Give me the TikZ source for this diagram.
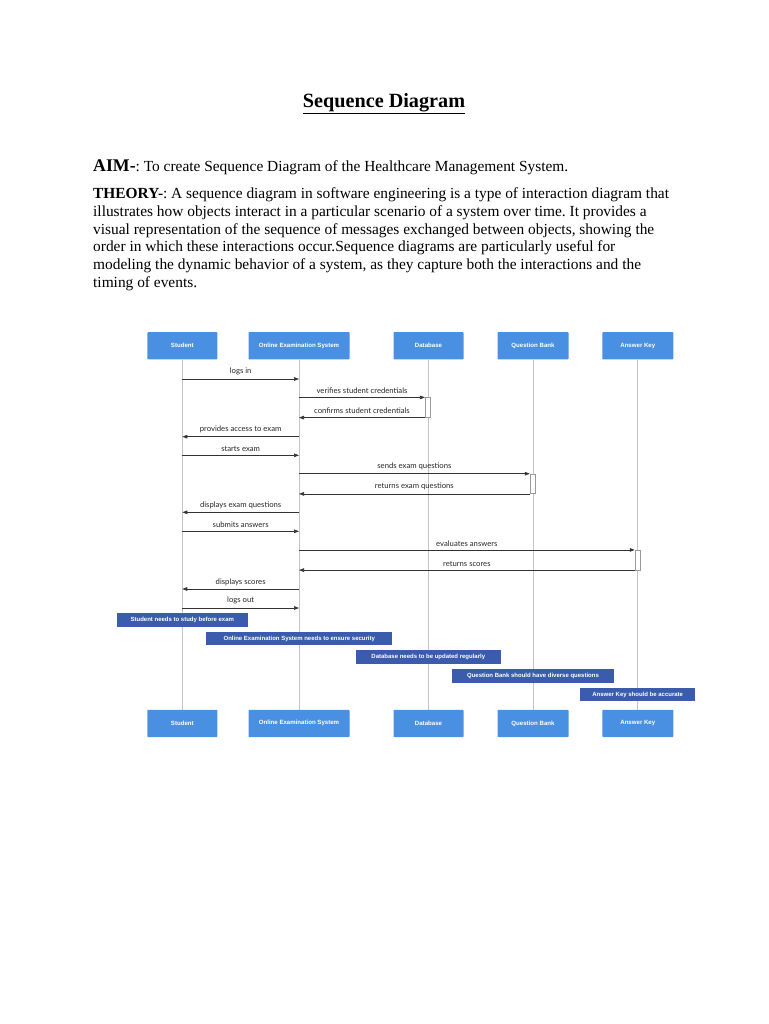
\documentclass[tikz,border=0pt]{standalone}
\usepackage{fontspec}
\setmainfont{Liberation Serif}
\newfontfamily\lblfont{Lato}
\newfontfamily\boxfont{Liberation Sans}
\usetikzlibrary{arrows.meta}
\definecolor{hdrblue}{HTML}{4A90E2}
\definecolor{noteblue}{HTML}{3B5CAD}
\definecolor{lifegrey}{HTML}{C4C4C4}
\definecolor{msgline}{HTML}{333333}
\definecolor{bargrey}{HTML}{9A9A9A}
\frenchspacing
\begin{document}
\begin{tikzpicture}[x=1pt,y=-1pt,
  actor/.style={fill=hdrblue, draw=none, minimum height=27.3pt, inner sep=0pt,
    font=\boxfont\bfseries\fontsize{6.1}{7}\selectfont, text=white, rounded corners=0.8pt},
  note/.style={fill=noteblue, draw=none, minimum height=13.7pt, inner sep=0pt,
    font=\boxfont\bfseries\fontsize{6}{7}\selectfont, text=white},
  lifeline/.style={draw=lifegrey, line width=0.8pt},
  actbar/.style={draw=bargrey, fill=white, line width=0.6pt, minimum width=5.5pt, minimum height=19.6pt, inner sep=0pt},
  msg/.style={draw=msgline, line width=0.7pt, -{Triangle[length=5pt,width=3.6pt]}},
  lbl/.style={font=\lblfont\fontsize{7.7}{9}\selectfont, inner sep=0pt, above=3.3pt, midway, text=black!85},
  para/.style={anchor=base west, inner sep=0pt, font=\fontsize{15.4}{18}\selectfont}
]
\useasboundingbox (0,0) rectangle (768,1024);

% ---- text ----
\node[anchor=base, inner sep=0pt, font=\bfseries\fontsize{20.2}{24}\selectfont] (title) at (384,107.5) {\underline{Sequence Diagram}};
\node[para] (aim) at (93,171.5) {{\bfseries\fontsize{17.8}{20}\selectfont AIM-}: To create Sequence Diagram of the Healthcare Management System.};
\node[para] (t1) at (93,198.5) {\textbf{THEORY-}: A sequence diagram in software engineering is a type of interaction diagram that};
\node[para] (t2) at (93,216.5) {illustrates how objects interact in a particular scenario of a system over time. It provides a};
\node[para] (t3) at (93,234) {visual representation of the sequence of messages exchanged between objects, showing the};
\node[para] (t4) at (93,251.5) {order in which these interactions occur.Sequence diagrams are particularly useful for};
\node[para] (t5) at (93,269.5) {modeling the dynamic behavior of a system, as they capture both the interactions and the};
\node[para] (t6) at (93,287) {timing of events.};

% ---- actors ----
\node[actor, minimum width=70pt]  (stu) at (182.3,345.8) {Student};
\node[actor, minimum width=101pt] (oes) at (299.0,345.8) {Online Examination System};
\node[actor, minimum width=70pt]  (db)  at (428.5,345.8) {Database};
\node[actor, minimum width=71pt]  (qb)  at (533.0,345.8) {Question Bank};
\node[actor, minimum width=71pt]  (ak)  at (637.8,345.8) {Answer Key};

\node[actor, minimum width=70pt]  (stub) at (182.3,723.4) {Student};
\node[actor, minimum width=101pt] (oesb) at (299.0,723.4) {Online Examination System};
\node[actor, minimum width=70pt]  (dbb)  at (428.5,723.4) {Database};
\node[actor, minimum width=71pt]  (qbb)  at (533.0,723.4) {Question Bank};
\node[actor, minimum width=71pt]  (akb)  at (637.8,723.4) {Answer Key};

% ---- lifelines ----
\draw[lifeline] (stu.south) -- (stub.north);
\draw[lifeline] (oes.south) -- (oesb.north);
\draw[lifeline] (db.south) -- (dbb.north);
\draw[lifeline] (qb.south) -- (qbb.north);
\draw[lifeline] (ak.south) -- (akb.north);

% ---- activation bars ----
\node[actbar] (act1) at (428.0,407.5) {};
\node[actbar] (act2) at (532.8,483.8) {};
\node[actbar] (act3) at (637.8,560.0) {};

% ---- messages ----
\draw[msg] (stu |- 0,379) -- (oes |- 0,379) node[lbl] {logs in};
\draw[msg] (oes |- act1.north) -- (act1.north west) node[lbl] {verifies student credentials};
\draw[msg] (act1.south west) -- (oes |- act1.south) node[lbl] {confirms student credentials};
\draw[msg] (oes |- 0,436.7) -- (stu |- 0,436.7) node[lbl] {provides access to exam};
\draw[msg] (stu |- 0,455.3) -- (oes |- 0,455.3) node[lbl] {starts exam};
\draw[msg] (oes |- act2.north) -- (act2.north west) node[lbl] {sends exam questions};
\draw[msg] (act2.south west) -- (oes |- act2.south) node[lbl] {returns exam questions};
\draw[msg] (oes |- 0,512.3) -- (stu |- 0,512.3) node[lbl] {displays exam questions};
\draw[msg] (stu |- 0,531.3) -- (oes |- 0,531.3) node[lbl] {submits answers};
\draw[msg] (oes |- act3.north) -- (act3.north west) node[lbl] {evaluates answers};
\draw[msg] (act3.south west) -- (oes |- act3.south) node[lbl] {returns scores};
\draw[msg] (oes |- 0,589) -- (stu |- 0,589) node[lbl] {displays scores};
\draw[msg] (stu |- 0,608) -- (oes |- 0,608) node[lbl] {logs out};

% ---- notes ----
\node[note, minimum width=131.3pt] (n1) at (182.3,619.7) {Student needs to study before exam};
\node[note, minimum width=186pt]   (n2) at (299.3,638.5) {Online Examination System needs to ensure security};
\node[note, minimum width=144.7pt] (n3) at (428.3,657.2) {Database needs to be updated regularly};
\node[note, minimum width=162pt]   (n4) at (533.0,675.9) {Question Bank should have diverse questions};
\node[note, minimum width=114.7pt] (n5) at (637.7,694.5) {Answer Key should be accurate};
\end{tikzpicture}
\end{document}
